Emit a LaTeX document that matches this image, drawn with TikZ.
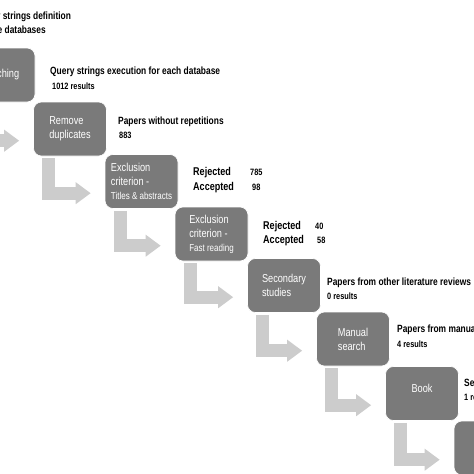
\documentclass[tikz,border=0pt]{standalone}
\usepackage{fontspec}
\setmainfont{Liberation Sans}[FakeStretch=0.8]
\usetikzlibrary{arrows.meta}
\definecolor{boxGray}{RGB}{122,122,122}
\definecolor{arrowGray}{RGB}{204,204,204}
\newcommand{\smallBox}[1]{{\fontsize{10}{12}\selectfont #1}}

\begin{document}
\begin{tikzpicture}[x=1pt, y=-1pt,
  stage/.style={fill=boxGray, draw=white, line width=0.6pt, rounded corners=8pt,
    minimum width=73pt, minimum height=54pt, inner sep=0pt,
    text=white, align=left, font=\fontsize{11.5}{14}\selectfont},
  note/.style={anchor=west, inner sep=0pt, font=\bfseries\fontsize{10.5}{12}\selectfont},
  nbtext/.style={anchor=west, inner sep=0pt, font=\bfseries\fontsize{9.2}{11}\selectfont},
  verdict/.style={anchor=west, inner sep=0pt, font=\bfseries\fontsize{11.3}{13}\selectfont},
  flow/.style={draw=arrowGray, line width=13pt, line join=miter,
    -{Triangle[width=21pt,length=15pt]}}]
  \useasboundingbox (0,0) rectangle (474,474);
  \clip (0,0) rectangle (474,474);

  \node[stage] (SEARCH) at (-1.5,75) {Searching};
  \node[stage] (DUP) at (70,129) {Remove\\duplicates};
  \node[stage] (TITLES) at (141.5,181.5) {Exclusion\\criterion -\\\smallBox{Titles \& abstracts}};
  \node[stage] (FAST) at (211.5,234) {Exclusion\\criterion -\\\smallBox{Fast reading}};
  \node[stage] (SEC) at (284,285.5) {Secondary\\studies};
  \node[stage] (MAN) at (353,339) {Manual\\search};
  \node[stage] (BOOK) at (422,393.5) {Book\\[-4pt]};
  \node[stage] (LAST) at (490.5,448) {};

  % texts beside the boxes
  \node[note] (DEF1) at (-24,17) {Query strings definition};
  \node[note] (DEF2) at (-24,30) {for the databases};
  \node[note] (EXE1) at (50,72) {Query strings execution for each database};
  \node[nbtext] (EXE2) at (52,86) {1012 results};
  \node[note] (REP1) at (118,122) {Papers without repetitions};
  \node[nbtext] (REP2) at (119,135) {883};
  \node[verdict] (TREJ) at (193,173) {Rejected};
  \node[verdict] (TACC) at (193,188) {Accepted};
  \node[nbtext] (TREJN) at (250,172) {785};
  \node[nbtext] (TACCN) at (252,187) {98};
  \node[verdict] (FREJ) at (263,227) {Rejected};
  \node[verdict] (FACC) at (263,241) {Accepted};
  \node[nbtext] (FREJN) at (315,226) {40};
  \node[nbtext] (FACCN) at (317,240) {58};
  \node[note] (SEC1) at (327,283) {Papers from other literature reviews};
  \node[nbtext] (SEC2) at (327,296) {0 results};
  \node[note] (MAN1) at (397,330) {Papers from manual search};
  \node[nbtext] (MAN2) at (397,344) {4 results};
  \node[note] (BOOK1) at (464,383) {Selected book};
  \node[nbtext] (BOOK2) at (464,397) {1 result};

  \draw[flow] ([xshift=15.5pt,yshift=-2pt]SEARCH.south west) |- ([xshift=-14pt,yshift=-39pt]DUP.north west);
  \draw[flow] ([xshift=15.5pt,yshift=-2pt]DUP.south west) |- ([xshift=-14pt,yshift=-39pt]TITLES.north west);
  \draw[flow] ([xshift=15.5pt,yshift=-2pt]TITLES.south west) |- ([xshift=-14pt,yshift=-39pt]FAST.north west);
  \draw[flow] ([xshift=15.5pt,yshift=-2pt]FAST.south west) |- ([xshift=-14pt,yshift=-39pt]SEC.north west);
  \draw[flow] ([xshift=15.5pt,yshift=-2pt]SEC.south west) |- ([xshift=-14pt,yshift=-39pt]MAN.north west);
  \draw[flow] ([xshift=15.5pt,yshift=-2pt]MAN.south west) |- ([xshift=-14pt,yshift=-39pt]BOOK.north west);
  \draw[flow] ([xshift=15.5pt,yshift=-2pt]BOOK.south west) |- ([xshift=-14pt,yshift=-39pt]LAST.north west);
\end{tikzpicture}
\end{document}
